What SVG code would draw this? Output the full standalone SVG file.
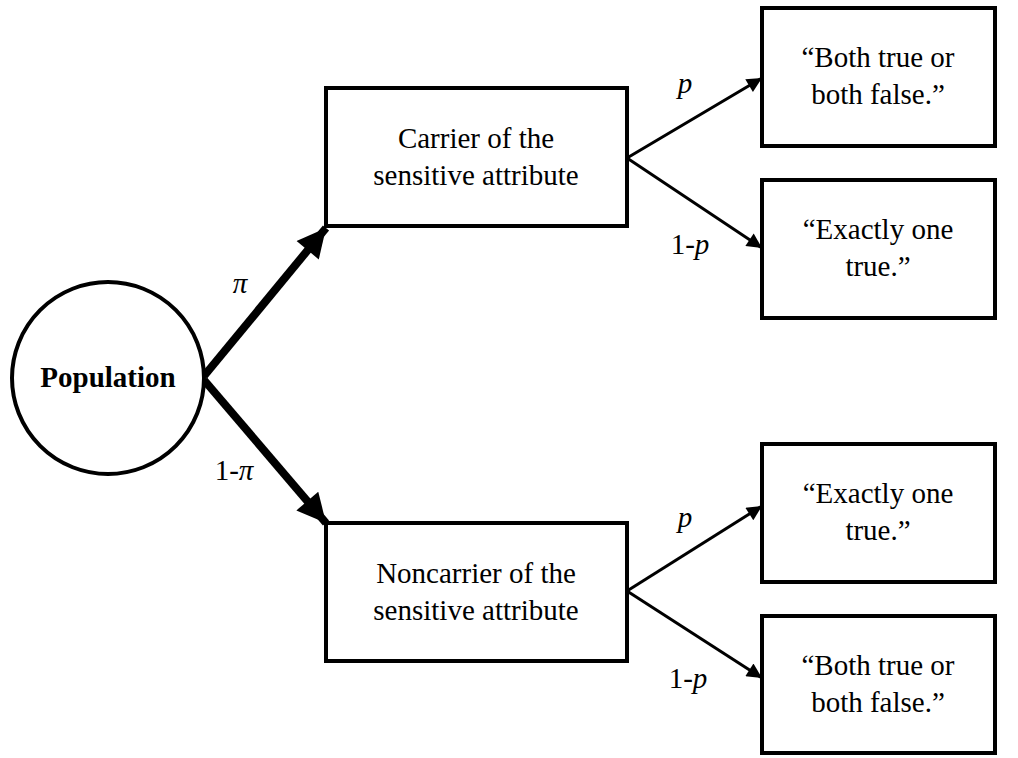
<svg xmlns="http://www.w3.org/2000/svg" width="1018" height="758" viewBox="0 0 1018 758" font-family="'Liberation Serif', 'Times New Roman', serif">
<style>
.b{fill:#fff;stroke:#000;stroke-width:4}
text{font-family:'Liberation Serif','Times New Roman',serif;font-size:29px;text-anchor:middle;fill:#000}
.i{font-style:italic}
.t{stroke:#000;stroke-width:3;fill:none}
.k{stroke:#000;stroke-width:8;fill:none}
</style>
<defs>
<marker id="a" viewBox="0 0 10 10" refX="10" refY="5" markerWidth="6" markerHeight="5" markerUnits="strokeWidth" orient="auto"><path d="M0,0L10,5L0,10z"/></marker>
<marker id="A" viewBox="0 0 10 10" refX="10" refY="5" markerWidth="4" markerHeight="3.6" markerUnits="strokeWidth" orient="auto"><path d="M0,0L10,5L0,10z"/></marker>
</defs>
<rect width="1018" height="758" fill="#fff"/>
<g id="connectors">
<line class="k" x1="204" y1="376" x2="326" y2="228" marker-end="url(#A)"/>
<line class="k" x1="204" y1="380" x2="326" y2="523" marker-end="url(#A)"/>
<line class="t" x1="627" y1="158" x2="762" y2="78" marker-end="url(#a)"/>
<line class="t" x1="627" y1="158" x2="762" y2="248" marker-end="url(#a)"/>
<line class="t" x1="627" y1="591" x2="762" y2="506" marker-end="url(#a)"/>
<line class="t" x1="627" y1="591" x2="762" y2="678" marker-end="url(#a)"/>
<text x="240" y="293" class="i">π</text>
<text x="234" y="480">1-<tspan class="i">π</tspan></text>
<text x="685" y="93" class="i">p</text>
<text x="690" y="254">1-<tspan class="i">p</tspan></text>
<text x="685" y="527" class="i">p</text>
<text x="688" y="688">1-<tspan class="i">p</tspan></text>
</g>
<g id="population"><circle class="b" cx="108" cy="378" r="96"/><text x="108" y="387" font-weight="bold">Population</text></g>
<g id="carrier"><rect class="b" x="326" y="88" width="301" height="138"/><text x="476" y="148">Carrier of the</text><text x="476" y="185">sensitive attribute</text></g>
<g id="noncarrier"><rect class="b" x="326" y="523" width="301" height="138"/><text x="476" y="583">Noncarrier of the</text><text x="476" y="620">sensitive attribute</text></g>
<g id="r1"><rect class="b" x="762" y="8" width="233" height="138"/><text x="878" y="67">“Both true or</text><text x="878" y="104">both false.”</text></g>
<g id="r2"><rect class="b" x="762" y="180" width="233" height="138"/><text x="878" y="239">“Exactly one</text><text x="878" y="276">true.”</text></g>
<g id="r3"><rect class="b" x="762" y="444" width="233" height="138"/><text x="878" y="503">“Exactly one</text><text x="878" y="540">true.”</text></g>
<g id="r4"><rect class="b" x="762" y="616" width="233" height="137"/><text x="878" y="675">“Both true or</text><text x="878" y="712">both false.”</text></g>
</svg>
